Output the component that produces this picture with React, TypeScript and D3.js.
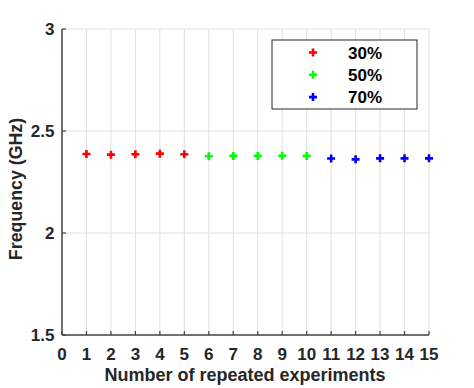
import React from "react";
import * as d3 from "d3";

const runs30 = [1, 2, 3, 4, 5];
const freq30 = [2.387, 2.384, 2.386, 2.389, 2.386];
const runs50 = [6, 7, 8, 9, 10];
const freq50 = [2.376, 2.378, 2.378, 2.379, 2.378];
const runs70 = [11, 12, 13, 14, 15];
const freq70 = [2.365, 2.361, 2.366, 2.366, 2.366];

const xTicks = d3.range(0, 16);
const yTicks = [1.5, 2, 2.5, 3];
const yTickLabels = ["1.5", "2", "2.5", "3"];

const series = [
  { label: "30%", color: "#ff0000", runs: runs30, freq: freq30 },
  { label: "50%", color: "#00ff00", runs: runs50, freq: freq50 },
  { label: "70%", color: "#0000ff", runs: runs70, freq: freq70 },
];

const W = 474;
const H = 388;
const margin = { left: 62, top: 29, right: 45, bottom: 53 };
const font = "'Liberation Sans', Arial, sans-serif";

function Plus({ x, y, color }: { x: number; y: number; color: string }) {
  const r = 4;
  return (
    <path
      d={`M${x - r},${y}H${x + r}M${x},${y - r}V${y + r}`}
      stroke={color}
      strokeWidth={2.6}
      fill="none"
    />
  );
}

export default function App() {
  const x = d3.scaleLinear().domain([0, 15]).range([margin.left, W - margin.right]);
  const y = d3.scaleLinear().domain([1.5, 3]).range([H - margin.bottom, margin.top]);
  const [x0, x1] = x.range();
  const [y0, y1] = y.range();

  const legend = { x: 272, y: 40, w: 145, h: 69 };

  return (
    <svg
      width={W}
      height={H}
      style={{ position: "absolute", left: 0, top: 0, background: "#fff" }}
      fontFamily={font}
    >
      {/* grid */}
      {xTicks.slice(1).map((t) => (
        <line key={"gx" + t} x1={x(t)} x2={x(t)} y1={y0} y2={y1} stroke="#e0e0e0" strokeWidth={1} />
      ))}
      {yTicks.slice(1).map((t) => (
        <line key={"gy" + t} x1={x0} x2={x1} y1={y(t)} y2={y(t)} stroke="#e0e0e0" strokeWidth={1} />
      ))}

      {/* axes */}
      <line x1={x0} x2={x0} y1={y0} y2={y1} stroke="#404040" strokeWidth={1.5} />
      <line x1={x0} x2={x1} y1={y0} y2={y0} stroke="#404040" strokeWidth={1.5} />
      {xTicks.map((t) => (
        <g key={"xt" + t}>
          <line x1={x(t)} x2={x(t)} y1={y0} y2={y0 - 4} stroke="#404040" strokeWidth={1.2} />
          <text
            x={x(t)}
            y={y0 + 25}
            textAnchor="middle"
            fontSize={17}
            fontWeight="bold"
            fill="#262626"
          >
            {t}
          </text>
        </g>
      ))}
      {yTicks.map((t, i) => (
        <g key={"yt" + t}>
          <line x1={x0} x2={x0 + 4} y1={y(t)} y2={y(t)} stroke="#404040" strokeWidth={1.2} />
          <text
            x={x0 - 7.5}
            y={y(t) + 6}
            textAnchor="end"
            fontSize={17}
            fontWeight="bold"
            fill="#262626"
          >
            {yTickLabels[i]}
          </text>
        </g>
      ))}

      {/* axis labels */}
      <text
        x={245}
        y={381}
        textAnchor="middle"
        fontSize={18}
        fontWeight="bold"
        fill="#262626"
      >
        Number of repeated experiments
      </text>
      <text
        transform="translate(22,189) rotate(-90)"
        textAnchor="middle"
        fontSize={17.8}
        fontWeight="bold"
        fill="#262626"
      >
        Frequency (GHz)
      </text>

      {/* points */}
      {series.map((s) =>
        s.runs.map((r, i) => <Plus key={s.label + r} x={x(r)} y={y(s.freq[i])} color={s.color} />)
      )}

      {/* legend */}
      <rect
        x={legend.x}
        y={legend.y}
        width={legend.w}
        height={legend.h}
        fill="#fff"
        stroke="#262626"
        strokeWidth={1}
      />
      {series.map((s, i) => (
        <g key={"lg" + s.label}>
          <Plus x={313} y={52.5 + i * 22.3} color={s.color} />
          <text x={348} y={52.5 + i * 22.3 + 6} fontSize={17} fontWeight="bold" fill="#000">
            {s.label}
          </text>
        </g>
      ))}
    </svg>
  );
}
